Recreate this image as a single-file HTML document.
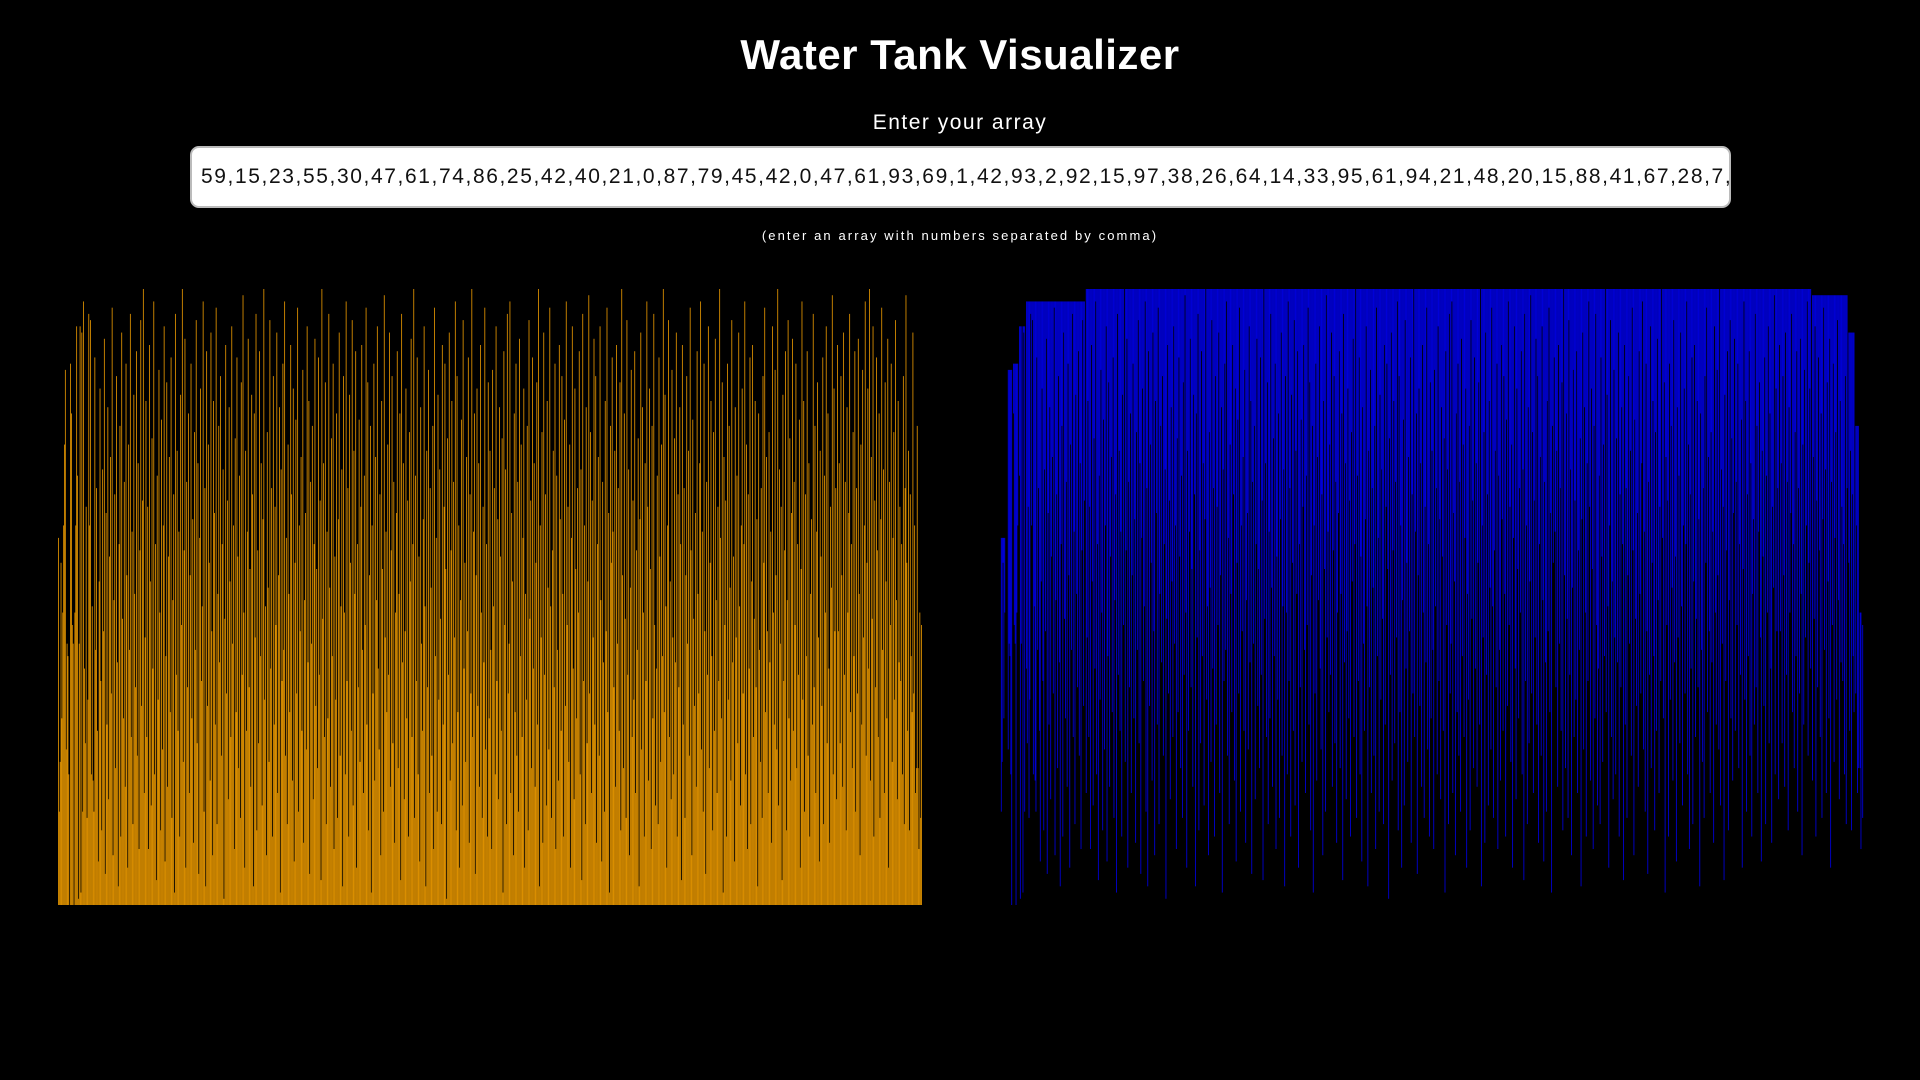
<!DOCTYPE html>
<html><head><meta charset="utf-8"><style>
html,body{margin:0;padding:0;background:#000;width:1920px;height:1080px;overflow:hidden;font-family:"Liberation Sans",sans-serif;color:#fff}
#title{position:absolute;left:0;width:1920px;top:31px;text-align:center;font-size:42px;font-weight:bold;letter-spacing:0.5px}
#label{position:absolute;left:0;width:1920px;top:111px;text-align:center;font-size:21px;letter-spacing:1.5px}
#arr{position:absolute;left:190px;top:146px;width:1541px;height:62px;box-sizing:border-box;background:#fff;border-radius:9px;border:2px solid #bbb;color:#111;font-family:"Liberation Sans",sans-serif;font-size:21px;letter-spacing:1.6px;padding:0 9px;white-space:nowrap;overflow:hidden;line-height:58px}
#hint{position:absolute;left:0;width:1920px;top:228px;text-align:center;font-size:13px;letter-spacing:2.1px}
svg{position:absolute;left:0;top:0}
</style></head><body>
<div id="title">Water Tank Visualizer</div>
<div id="label">Enter your array</div>
<div id="arr"></div>
<div id="hint">(enter an array with numbers separated by comma)</div>
<svg id="chart" width="1920" height="1080">
<g id="left"></g>
<g id="right"></g>
</svg>
<script>
const heights = [59,15,23,55,30,47,61,74,86,25,42,40,21,0,87,79,45,42,0,47,61,93,69,1,42,93,2,92,15,97,38,26,64,14,33,95,61,94,21,48,20,15,88,41,67,28,7,52,83,36,
12,70,44,91,5,63,29,80,17,56,72,34,96,8,49,66,22,85,39,3,58,77,11,92,46,30,68,19,87,53,6,74,41,95,27,60,13,82,50,35,89,24,71,9,57,94,32,65,99,18,
43,81,27,64,9,90,52,16,75,38,97,21,58,4,69,33,86,47,12,78,25,61,93,7,40,84,19,56,72,31,88,14,49,66,2,95,37,73,28,60,11,82,45,99,23,57,91,6,68,35,
79,18,53,87,30,62,10,76,41,94,26,71,5,59,83,36,48,97,15,67,3,89,32,74,55,20,92,44,8,81,63,29,96,13,50,77,39,85,24,58,70,1,46,90,34,65,17,80,52,27,
93,42,61,9,75,31,88,56,22,69,14,84,37,98,47,6,73,28,60,91,35,54,19,82,66,3,79,43,95,12,57,26,89,40,71,16,62,99,33,48,8,76,51,23,94,38,67,11,85,29,
64,45,92,18,53,80,2,70,36,87,41,97,24,59,13,74,50,31,90,66,20,83,7,55,78,34,96,15,61,44,72,28,86,10,49,63,25,93,39,81,5,68,42,77,17,58,91,32,54,22,
88,37,65,4,99,46,71,27,84,13,60,30,95,51,19,75,40,87,9,56,33,79,14,62,92,24,48,70,3,85,47,21,97,36,67,11,82,55,28,94,16,73,50,89,6,58,35,78,23,64,
90,41,18,69,45,96,29,84,12,53,77,2,61,34,87,20,72,49,93,38,25,66,8,81,54,15,98,43,60,31,74,37,92,19,57,85,26,68,10,47,63,89,22,50,79,4,95,39,71,17,
44,83,30,65,11,76,52,91,27,58,99,14,69,36,88,21,56,7,80,42,28,62,93,48,3,73,35,86,18,67,51,24,77,9,96,40,59,15,82,33,70,46,13,90,29,64,87,54,1,75,
37,92,20,57,81,26,68,43,97,12,85,31,61,6,49,78,16,94,38,55,23,72,44,88,10,66,34,99,27,60,79,5,53,83,32,71,19,90,47,14,64,39,96,25,58,11,84,30,73,41,
9,86,48,67,21,93,36,62,17,80,56,28,75,2,89,45,70,13,95,34,42,97,18,63,52,8,79,31,87,24,68,15,91,40,74,27,59,83,6,50,33,77,12,94,46,65,22,88,38,71,
19,55,84,29,99,3,61,43,76,10,92,37,66,16,81,51,25,96,48,14,57,73,35,87,9,69,41,20,90,62,28,85,50,11,78,32,97,45,64,23,74,6,59,93,38,17,83,54,30,67,
47,89,21,70,4,95,36,61,13,80,26,52,98,34,76,18,65,43,91,29,85,10,58,72,24,93,49,7,68,39,15,81,44,96,31,63,2,77,55,88,60,35,73,19,90,42,67,28,84,12,
99,53,22,79,46,14,94,37,70,8,51,86,27,65,33,89,18,57,41,75,3,62,92,25,80,47,11,71,36,97,64,20,83,54,9,77,30,95,45,16,38,69,13,88,56,23,74,40,99,31,
82,48,6,61,94,27,52,17,86,43,21,75,39,92,11,66,35,80,58,4,90,29,67,14,53,85,42,73,24,96,57,8,78,46,32,63,19,89,50,34,71,97,25,60,15,87,44,5,68,37,
93,22,55,81,40,12,76,28,91,49,18,64,36,99,59,30,84,2,72,45,65,11,87,33,77,51,20,94,39,56,7,80,43,69,26,92,48,16,61,83,34,58,97,21,74,9,66,38,88,13,
52,90,27,46,81,35,62,3,79,41,23,67,14,85,55,96,31,72,44,18,76,39,60,10,93,47,29,86,53,25,99,16,70,42,64,4,82,36,57,89,12,49,94,30,75,20,63,91,28,68,
45,87,22,58,37,78,6,54,97,33,81,15,66,40,89,24,71,11,50,62,29,95,35,77,18,60,84,43,7,73,56,32,88,13,69,47,93,26,79,38,10,64,51,98,21,83,44,67,17,90,
44,71,26,85,53,19,92,37,68,12,80,47,63,95,31,58,22,76,40,89,15,67,34,91,50,8,74,29,86,43,61,97,24,55,83,38,99,
20,72,46,93,11,65,35,88,57,27,79,14,62,96,41,70,18,84,52,30,91,6,68,45,87,23,59,76,33,94,49,17,81,39,64,36,58,21,85,13,67,98,
55,28,73,12,66,40,31,92,34,61,18,22,77,22,9,47,14,45];
const yMax = 99;
const plotTop = 289, plotBottom = 905, plotW = 864;
const leftX0 = 58, rightX0 = 1000;

document.getElementById('arr').textContent = heights.join(',');

const n = heights.length;
const bw = plotW / n;
function yScale(v){ return plotBottom - v / yMax * (plotBottom - plotTop); }
function xScale(i, x0){ return x0 + i * bw; }

const pre = [], suf = [];
for (let i = 0; i < n; i++) pre[i] = Math.max(heights[i], i ? pre[i-1] : 0);
for (let i = n-1; i >= 0; i--) suf[i] = Math.max(heights[i], i < n-1 ? suf[i+1] : 0);

const NS = 'http://www.w3.org/2000/svg';
const gL = document.getElementById('left'), gR = document.getElementById('right');
for (let i = 0; i < n; i++) {
  const r = document.createElementNS(NS, 'rect');
  
  
  r.setAttribute('x', xScale(i, leftX0));
  r.setAttribute('width', bw);
  r.setAttribute('y', yScale(heights[i]));
  r.setAttribute('height', plotBottom - yScale(heights[i]));
  r.setAttribute('fill', '#db8f00');
  gL.appendChild(r);
  const lvl = Math.min(pre[i], suf[i]);
  if (lvl > heights[i]) {
    const w = document.createElementNS(NS, 'rect');
    
    
    w.setAttribute('x', xScale(i, rightX0));
    w.setAttribute('width', bw);
    w.setAttribute('y', yScale(lvl));
    w.setAttribute('height', yScale(heights[i]) - yScale(lvl));
    w.setAttribute('fill', '#0000d8');
    gR.appendChild(w);
  }
}
</script>
</body></html>
